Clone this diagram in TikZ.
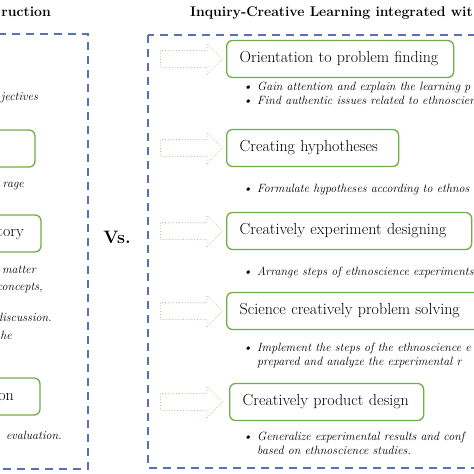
\documentclass[tikz,border=0pt]{standalone}
\usetikzlibrary{positioning, shapes.arrows}
\definecolor{frameblue}{RGB}{88,114,182}
\definecolor{stagegreen}{RGB}{112,173,71}
\definecolor{hintgreen}{RGB}{160,205,130}

\begin{document}
\begin{tikzpicture}[x=1pt,y=-1pt,
  frame/.style={draw=frameblue, line width=1.3pt, dash pattern=on 8pt off 6pt},
  stagebox/.style={draw=stagegreen, line width=1.3pt, rounded corners=6pt,
    minimum height=37pt, text width=#1, inner xsep=13pt, align=left,
    anchor=west, font=\fontsize{16}{18}\selectfont},
  notes/.style={anchor=west, inner sep=0pt, font=\fontsize{12}{14}\selectfont\itshape},
  hint/.style={single arrow, draw=hintgreen, dotted, line width=0.8pt,
    minimum height=62pt, minimum width=30pt, single arrow head extend=7pt,
    inner xsep=0pt, inner ysep=8pt},
  title/.style={inner sep=0pt, font=\fontsize{14}{16}\selectfont\bfseries}]

\useasboundingbox (0,0) rectangle (474,474);

% dashed frames
\draw[frame] (-10,34) rectangle (88,469);
\draw[frame] (148,35) rectangle (495,468);

% titles
\node[title, anchor=east] (lefttitle) at (51,12) {ruction};
\node[title, anchor=west] (righttitle) at (190,13) {Inquiry-Creative Learning integrated wit};
\node[inner sep=0pt, font=\fontsize{18}{20}\selectfont\bfseries] (vs) at (117,237) {Vs.};

% left column (cut off)
\node[notes, anchor=east] (l1) at (38,98) {jectives};
\draw[stagegreen, line width=1.3pt, rounded corners=6pt] (-20,130) rectangle (35,167);
\node[notes, anchor=east] (l2) at (24,186) {rage};
\draw[stagegreen, line width=1.3pt, rounded corners=6pt] (-20,215) rectangle (41,252);
\node[inner sep=0pt, anchor=east, font=\fontsize{16}{18}\selectfont] (l3) at (24,233) {tory};
\node[notes, anchor=east] (l4) at (36,270) {matter};
\node[notes, anchor=east] (l5) at (43,288) {concepts,};
\node[notes, anchor=east] (l6) at (52,317) {discussion.};
\node[notes, anchor=east] (l7) at (12,335) {he};
\draw[stagegreen, line width=1.3pt, rounded corners=6pt] (-20,378) rectangle (40,415);
\node[inner sep=0pt, anchor=east, font=\fontsize{16}{18}\selectfont] (l8) at (14,397) {on};
\node[notes, anchor=east] (l9) at (62,435) {evaluation.};

% stages
\node[stagebox=201pt] (stage1) at (226,59) {Orientation to problem finding};
\node[stagebox=146pt] (stage2) at (226,148) {Creating hyphotheses};
\node[stagebox=219pt] (stage3) at (226,231) {Creatively experiment designing};
\node[stagebox=250pt] (stage4) at (226,311) {Science creatively problem solving};
\node[stagebox=168pt] (stage5) at (229,402) {Creatively product design};

% arrows into the stages
\node[hint, left=3pt of stage1] (arr1) {};
\node[hint, left=3pt of stage2] (arr2) {};
\node[hint, left=3pt of stage3] (arr3) {};
\node[hint, left=3pt of stage4] (arr4) {};
\node[hint, left=6pt of stage5] (arr5) {};

% notes
\node[notes] (note1) at (243,95) {\begin{tabular}{@{}l@{\hspace{5pt}}l@{}}
  \textbullet & Gain attention and explain the learning p\\
  \textbullet & Find authentic issues related to ethnoscien\end{tabular}};
\node[notes] (note2) at (243,190) {\textbullet\hspace{5pt}Formulate hypotheses according to ethnos};
\node[notes] (note3) at (243,272) {\textbullet\hspace{5pt}Arrange steps of ethnoscience experiments};
\node[notes] (note4) at (243,356) {\begin{tabular}{@{}l@{\hspace{5pt}}l@{}}
  \textbullet & Implement the steps of the ethnoscience e\\
  & prepared and analyze the experimental r\end{tabular}};
\node[notes] (note5) at (243,445) {\begin{tabular}{@{}l@{\hspace{5pt}}l@{}}
  \textbullet & Generalize experimental results and conf\\
  & based on ethnoscience studies.\end{tabular}};
\end{tikzpicture}
\end{document}
